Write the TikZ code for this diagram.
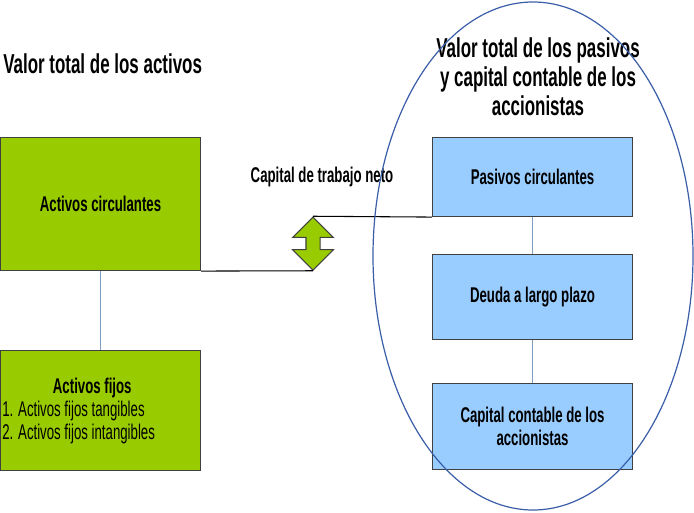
\documentclass[tikz,border=0pt]{standalone}
\usepackage{fontspec}
\setmainfont{Liberation Sans}[FakeStretch=0.62]
\usetikzlibrary{calc,shapes.arrows}
\definecolor{verde}{HTML}{99CC00}
\definecolor{azul}{HTML}{99CCFF}
\definecolor{elipse}{HTML}{3A5DA8}
\definecolor{enlace}{HTML}{7F9FC0}

\begin{document}
\begin{tikzpicture}[x=0.75pt,y=-0.75pt]
	\tikzstyle{caja}=[draw=black!75, line width=0.8pt, inner sep=0pt, minimum width=150pt, anchor=north west, align=center, font=\fontsize{16}{17.25}\selectfont\bfseries]
	\tikzstyle{activo}=[caja, fill=verde]
	\tikzstyle{pasivo}=[caja, fill=azul]
	\tikzstyle{enlace}=[draw=enlace, line width=0.6pt]
	\tikzstyle{titulo}=[font=\fontsize{20.5}{21.75}\selectfont\bfseries, align=center, inner sep=0pt]

	\useasboundingbox (0,0) rectangle (694,512);

	\node (TA) [titulo, anchor=west] at (3,64) {Valor total de los activos};
	\node (TP) [titulo] at (538,77) {Valor total de los pasivos\\y capital contable de los\\accionistas};

	\node (AC) [activo, minimum height=99.75pt] at (0,137) {Activos circulantes};
	\node (AF) [activo, minimum height=90pt] at (0,350) {};
	\node (AFtxt) [align=center, inner sep=0pt, anchor=west, font=\fontsize{16}{17.25}\selectfont] at ($(AF.west)+(2,0)$) {\textbf{Activos fijos}\\\makebox[135pt][l]{1. Activos fijos tangibles}\\\makebox[135pt][l]{2. Activos fijos intangibles}};

	\node (PC) [pasivo, minimum height=59.25pt] at (432,137) {Pasivos circulantes};
	\node (DL) [pasivo, minimum height=63.75pt] at (432,254) {Deuda a largo plazo};
	\node (CC) [pasivo, minimum height=64.5pt] at (432,383) {Capital contable de los\\accionistas};

	\node (CT) [double arrow, rotate=90, draw=black!75, line width=0.8pt, fill=verde, inner sep=4.875pt, minimum height=39.75pt, double arrow head extend=10pt] at (313,243.5) {};
	\node (CTtxt) [font=\fontsize{16}{17.25}\selectfont\bfseries] at (322,177) {Capital de trabajo neto};

	\draw [enlace] (AC.south) -- (AF.north);
	\draw [enlace] (PC.south) -- (DL.north);
	\draw [enlace] (DL.south) -- (CC.north);
	\draw [line width=0.8pt] (AC.south east) -- (CT.tip 2);
	\draw [line width=0.8pt] (CT.tip 1) -- (PC.south west);

	\draw [elipse, line width=0.9pt] (533,256) ellipse [x radius=160, y radius=254];
\end{tikzpicture}
\end{document}
